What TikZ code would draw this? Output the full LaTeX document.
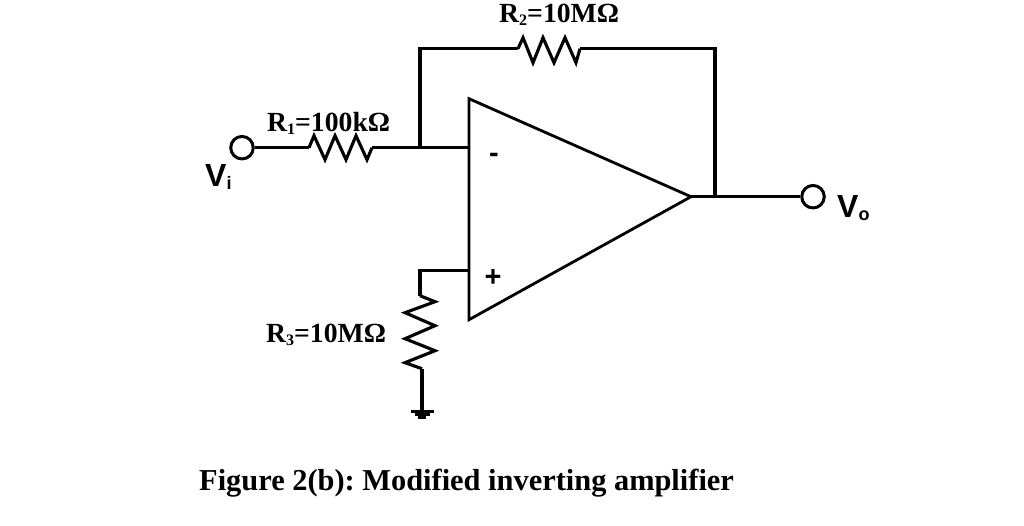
\documentclass[tikz,border=0pt]{standalone}
\usepackage{fontspec}
\setmainfont{Liberation Serif}
\newfontfamily\arialf{Liberation Sans}
\frenchspacing
\tikzset{
  wire/.style={line width=3.6pt,line cap=butt,line join=miter,black},
  res/.style={line width=3.1pt,line join=miter,black},
  amp/.style={line width=2.8pt,line join=miter,black},
  term/.style={circle,draw=black,line width=3pt,fill=white,minimum size=22.5pt,inner sep=0pt},
  lab/.style={font=\fontsize{27.7}{27.7}\selectfont\bfseries,inner sep=0pt,anchor=base west,text=black},
  sflab/.style={font=\arialf\fontsize{32}{32}\selectfont\bfseries,inner sep=0pt,anchor=base west,text=black},
  sgn/.style={font=\arialf\fontsize{29}{29}\selectfont\bfseries,inner sep=0pt,text=black},
  gndbar/.style={line width=2.6pt,black},
}
\newcommand{\sbs}[1]{\raisebox{-3pt}{\fontsize{16}{16}\selectfont #1}}
\begin{document}
\begin{tikzpicture}[x=1pt,y=-1pt]
\useasboundingbox (0,-0.7) rectangle (1024,525.3);
% op-amp
\coordinate (ampA) at (469,98);
\coordinate (ampB) at (469,319);
\coordinate (ampC) at (691,196);
\draw[amp] (ampA) -- (ampC) -- (ampB) -- cycle;
\coordinate (inm) at (469,147);
\coordinate (inp) at (469,270);
\coordinate (jn) at (420,147);
\coordinate (jo) at (715,196);
\coordinate (fbA) at (420,48);
\coordinate (fbB) at (715,48);
\coordinate (r1a) at (309,147);
\coordinate (r1b) at (372,147);
\coordinate (r2a) at (518,48);
\coordinate (r2b) at (580,48);
\coordinate (r3c) at (420,270);
\coordinate (r3a) at (420,295);
\coordinate (r3b) at (422,368);
\coordinate (gnd) at (422,410);
\node[term] (vi) at (242,147) {};
\node[term] (vo) at (813,196) {};
% wires
\draw[wire] (vi) -- (r1a);
\draw[wire] (r1b) -- (inm);
\draw[wire] (jn) -- (fbA) -- (r2a);
\draw[wire] (r2b) -- (fbB) -- (jo);
\draw[wire] (ampC) -- (vo);
\draw[line width=2.8pt,line join=miter] (inp) -- (r3c);
\draw[wire] (r3c) ++(0,-1.4) -- (r3a);
\draw[wire] (r3b) -- (gnd);
% resistors
\draw[res] (r1a) -- (314,135) -- (325,159) -- (335,135) -- (346,159) -- (356,135) -- (367,159) -- (r1b);
\draw[res] (r2a) -- (523,37) -- (533,62) -- (543,37) -- (554,62) -- (565,37) -- (576,62) -- (r2b);
\draw[res] (r3a) -- (435,301) -- (405,312) -- (435,325) -- (405,338) -- (435,350) -- (405,362) -- (r3b);
% ground
\draw[gndbar] (411,410.5) -- (434,410.5);
\draw[gndbar] (415,413.5) -- (430,413.5);
\draw[gndbar] (418,416.5) -- (426,416.5);
% labels
\node[lab] (l1) at (267,130.5) {R\sbs{1}=100kΩ};
\node[lab] (l2) at (499,22) {R\sbs{2}=10MΩ};
\node[lab] (l3) at (266,342) {R\sbs{3}=10MΩ};
\node[sflab] (lvi) at (205,186) {V\raisebox{-3pt}{\fontsize{18}{18}\selectfont i}};
\node[sflab] (lvo) at (837,217) {V\raisebox{-3pt}{\fontsize{18}{18}\selectfont o}};
\node[sgn] (minus) at (494,157) {-};
\node[sgn] (plus) at (493,277) {+};
\node[lab,font=\fontsize{30.4}{30.4}\selectfont\bfseries] (cap) at (199,490) {Figure 2(b): Modified inverting amplifier};
\end{tikzpicture}
\end{document}
